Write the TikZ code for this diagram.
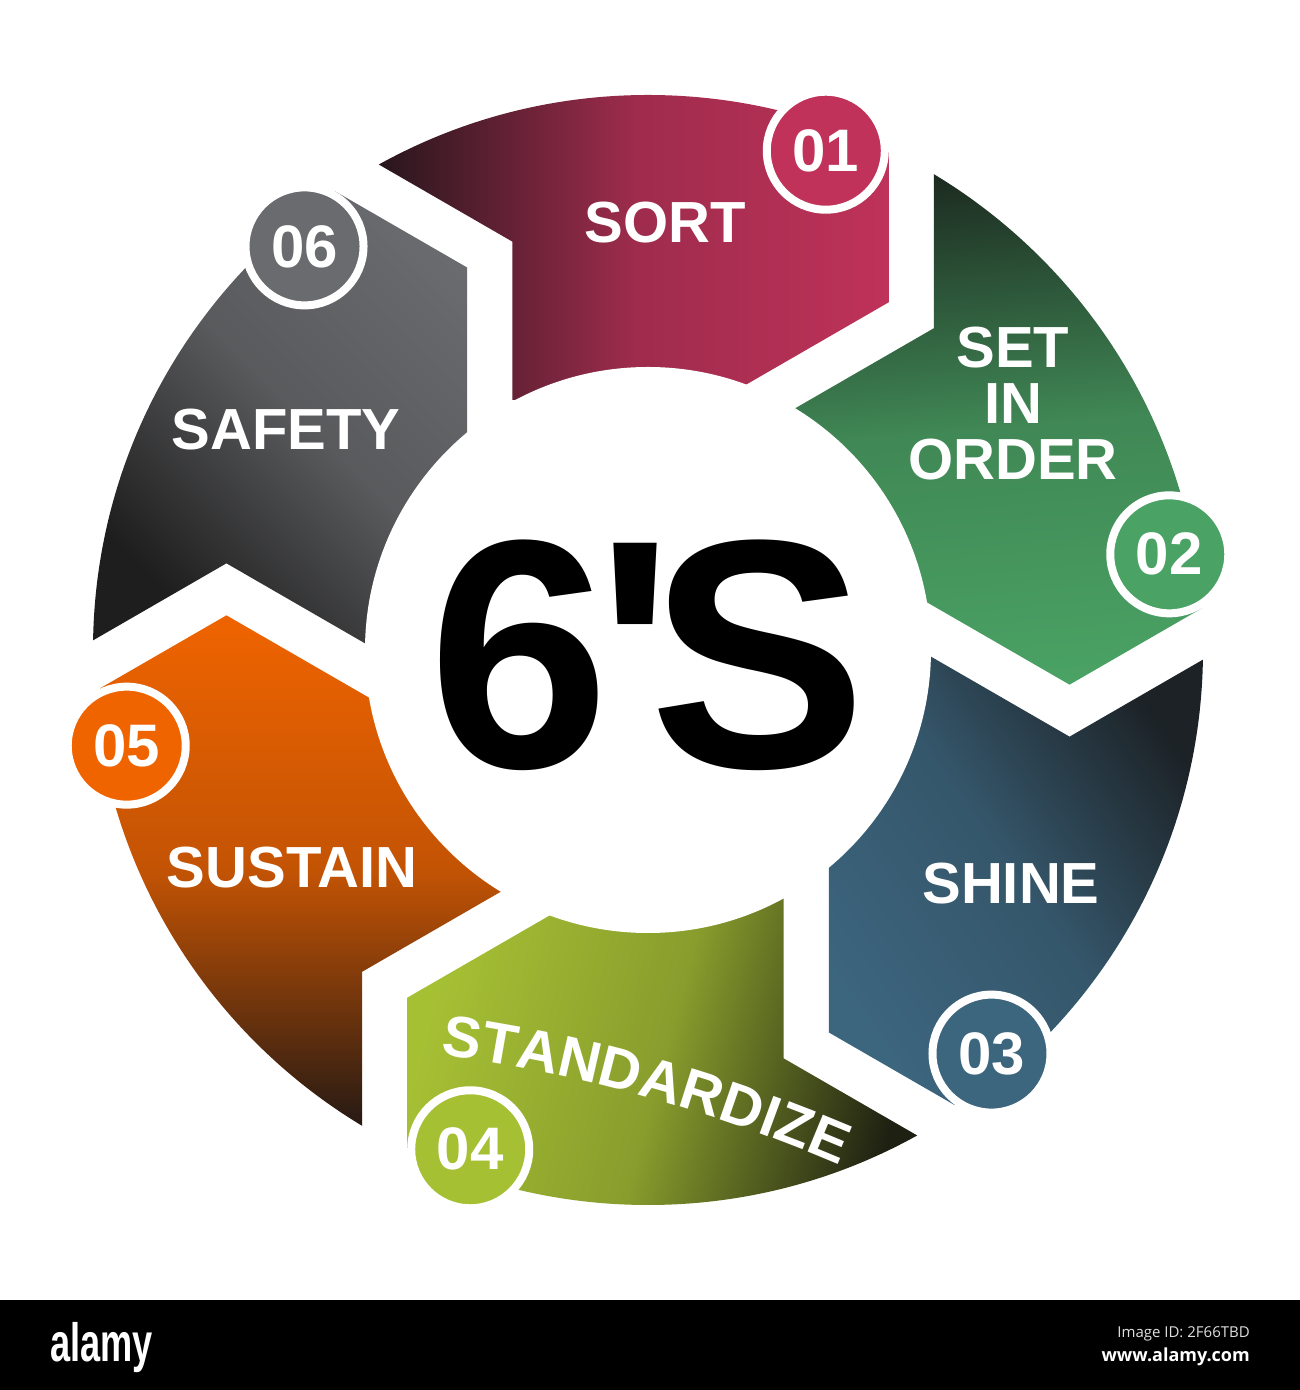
\documentclass[tikz,border=0pt]{standalone}
\usepackage{fontspec}
\setmainfont{Liberation Sans}
\newfontfamily\bigsans{Liberation Sans}[Ligatures=TeXOff]
\newfontfamily\opensans{Open Sans}
\usetikzlibrary{calc,decorations.text}
\definecolor{c1}{RGB}{192,50,90}   \definecolor{d1}{RGB}{38,22,28}
\definecolor{c2}{RGB}{74,162,100}  \definecolor{d2}{RGB}{28,42,32}
\definecolor{c3}{RGB}{60,101,126}  \definecolor{d3}{RGB}{28,34,38}
\definecolor{c4}{RGB}{166,192,52}  \definecolor{d4}{RGB}{30,32,18}
\definecolor{c5}{RGB}{240,100,0}   \definecolor{d5}{RGB}{34,24,20}
\definecolor{c6}{RGB}{106,107,110} \definecolor{d6}{RGB}{30,30,30}
\newcommand\sixseg[7]{%
  \begin{scope}
    \clip (C) circle (555);
    \clip (NI#1) -- (N#1) -- (NO#1) -- (M#1) -- (TO#2) -- (T#2) -- (TI#2) -- (C) -- cycle;
    \shade[top color=#4, bottom color=#3, middle color=#3!78!#4, shading angle=#5] #6 rectangle #7;
  \end{scope}}
\tikzset{
  lab/.style={text=white, font=\bfseries\fontsize{58}{56}\selectfont, align=center, inner sep=0},
  numc/.style={circle, draw=white, line width=8pt, minimum size=118pt, inner sep=0,
    text=white, font=\bfseries\fontsize{60}{60}\selectfont},
  big/.style={font=\bigsans\bfseries\fontsize{326}{326}\selectfont, inner sep=0, anchor=base, text=black}
}
\begin{document}
\begin{tikzpicture}[x=1pt,y=1pt]
\useasboundingbox (0,0) rectangle (1300,1390);
\fill[white] (0,0) rectangle (1300,1390);
\coordinate (C) at (648,740);
\foreach \k in {0,...,5}{
  \pgfmathsetmacro\th{60-60*\k}
  \pgfmathsetmacro\ph{\th-4.7}
  \pgfmathsetmacro\nd{\th-90}
  \pgfmathsetmacro\ai{\th+150}
  \pgfmathsetmacro\ao{\th+30}
  \pgfmathsetmacro\am{\th-22.5}
  \coordinate (T\k) at ($(C)+(\ph:423)$);
  \coordinate (N\k) at ($(T\k)+(\nd:52)$);
  \coordinate (TI\k) at ($(T\k)+(\ai:260)$);
  \coordinate (TO\k) at ($(T\k)+(\ao:300)$);
  \coordinate (NI\k) at ($(N\k)+(\ai:260)$);
  \coordinate (NO\k) at ($(N\k)+(\ao:300)$);
  \coordinate (M\k) at ($(C)+(\am:800)$);
}
\sixseg{5}{0}{c1}{d1}{90}{(375,990)}{(895,1300)}
\sixseg{0}{1}{c2}{d2}{5}{(795,700)}{(1210,1225)}
\sixseg{1}{2}{c3}{d3}{-55}{(825,285)}{(1210,740)}
\sixseg{2}{3}{c4}{d4}{-105}{(405,180)}{(925,495)}
\sixseg{3}{4}{c5}{d5}{180}{(100,258)}{(505,780)}
\sixseg{4}{5}{c6}{d6}{135}{(90,745)}{(475,1235)}
\fill[white] (C) circle (283);
\foreach \j/\col in {1/c1,2/c2,3/c3,4/c4,5/c5,6/c6}{
  \pgfmathsetmacro\a{70.4-60*(\j-1)}
  \node[numc, fill=\col] (n\j) at ($(C)+(\a:530)$) {0\j};
}
\node[lab] (sort) at (665,1167) {SORT};
\node[lab] (set) at (1013,986) {SET\\IN\\ORDER};
\node[lab] (shine) at (1011,506) {SHINE};
\coordinate (O) at (230,-1200);
\path[decorate, decoration={text along path, text color=white, text align=center,
  text={|\bfseries\fontsize{58}{58}\selectfont|STANDARDIZE}}]
  ($(O)+(85:1550)$) arc[start angle=85, end angle=64, radius=1550];
\node[lab] (sustain) at (292,522) {SUSTAIN};
\node[lab] (safety) at (286,960) {SAFETY};
\node[big] (six) at (519.5,622) {6};
\node[big] (apos) at (635.5,622) {'};
\node[big] (ess) at (758,622) {S};
\fill[black] (0,0) rectangle (1300,90);
\node[anchor=base west, inner sep=0, text=white, font=\bfseries\fontsize{54}{54}\selectfont, xscale=0.67] (logo) at (50,28) {alamy};
\node[anchor=base east, inner sep=0, text=white!88!black, font=\opensans\fontsize{15}{15}\selectfont] (imgid) at (1250,52) {Image ID: 2F66TBD};
\node[anchor=base east, inner sep=0, text=white, font=\opensans\bfseries\fontsize{18}{18}\selectfont] (www) at (1250,28) {www.alamy.com};
\end{tikzpicture}
\end{document}
